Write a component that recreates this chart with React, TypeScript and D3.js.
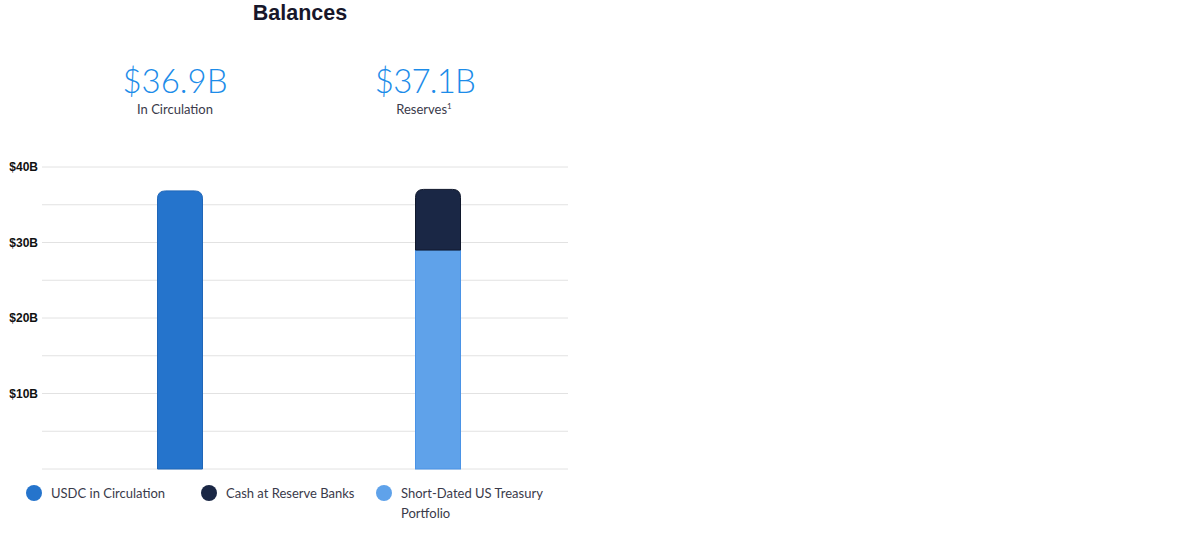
import React from "react";
import * as d3 from "d3";

const categories = ["In Circulation", "Reserves"];
const circulationValues = [36.9, 0];
const treasuryValues = [0, 29.0];
const cashValues = [0, 8.1];
const yTicks = [10, 20, 30, 40];
const gridTicks = [0, 5, 10, 15, 20, 25, 30, 35, 40];
const headlineValues = ["$36.9B", "$37.1B"];
const legendLabels = ["USDC in Circulation", "Cash at Reserve Banks", "Short-Dated US Treasury"];

const C_CIRC = "#2574cc";
const C_CASH = "#1a2745";
const C_TREAS = "#5fa2ea";

function topRoundedPath(x: number, y: number, w: number, h: number, r: number) {
  const rr = Math.min(r, h, w / 2);
  return `M${x},${y + h}V${y + rr}Q${x},${y} ${x + rr},${y}H${x + w - rr}Q${x + w},${y} ${x + w},${y + rr}V${y + h}Z`;
}

export default function App() {
  const width = 1200;
  const height = 541;
  const y = d3.scaleLinear().domain([0, 40]).range([469, 167]);
  const x = d3.scalePoint<string>().domain(categories).range([51, 567]).padding(0.5);
  const bw = 46;
  const font = "Arial, 'Liberation Sans', sans-serif";

  const stacks = categories.map((c, i) => {
    const cx = x(c)!;
    const segs: { y0: number; y1: number; color: string; stroke: string }[] = [];
    let base = 0;
    if (circulationValues[i] > 0) {
      segs.push({ y0: base, y1: base + circulationValues[i], color: C_CIRC, stroke: "#1f66b8" });
      base += circulationValues[i];
    }
    if (treasuryValues[i] > 0) {
      segs.push({ y0: base, y1: base + treasuryValues[i], color: C_TREAS, stroke: "#4a93e6" });
      base += treasuryValues[i];
    }
    if (cashValues[i] > 0) {
      segs.push({ y0: base, y1: base + cashValues[i], color: C_CASH, stroke: "#10182c" });
      base += cashValues[i];
    }
    return { cx, segs, total: base };
  });

  const legend = [
    { cx: 34, tx: 51, label: legendLabels[0], color: C_CIRC, extra: "" },
    { cx: 209, tx: 226, label: legendLabels[1], color: C_CASH, extra: "" },
    { cx: 384, tx: 401, label: legendLabels[2], color: C_TREAS, extra: "Portfolio" },
  ];

  return (
    <svg width={width} height={height} style={{ position: "absolute", left: 0, top: 0, background: "#fff" }}>
      <text x={300} y={20} textAnchor="middle" fontFamily="'Liberation Sans', Arial, sans-serif" fontWeight={700} fontSize={21.5} fill="#17172b">
        Balances
      </text>
      {categories.map((c, i) => (
        <g key={c}>
          <text x={i === 0 ? 175 : 425} y={93} textAnchor="middle" fontFamily="Lato, sans-serif" fontWeight={300} fontSize={33} fill="#1c8ce9" letterSpacing={i === 1 ? -0.8 : 0}>
            {headlineValues[i]}
          </text>
          <text x={i === 0 ? 175 : 424} y={114} textAnchor="middle" fontFamily="Lato, 'Open Sans', sans-serif" fontSize={13} fill="#3a3a4a">
            {c}
            {i === 1 ? <tspan dy={-5} fontSize={8}>1</tspan> : null}
          </text>
        </g>
      ))}
      {gridTicks.map((t) => (
        <line key={t} x1={42} x2={568} y1={y(t)} y2={y(t)} stroke="#e2e2e2" strokeWidth={1} />
      ))}
      {yTicks.map((t) => (
        <text key={t} x={38} y={y(t) + 4} textAnchor="end" fontFamily={font} fontWeight={700} fontSize={12} fill="#111">
          ${t}B
        </text>
      ))}
      {stacks.map((s, i) => (
        <g key={i}>
          {s.segs.map((seg, j) => {
            const top = y(seg.y1);
            const bottom = y(seg.y0);
            const isTop = j === s.segs.length - 1;
            const x0 = s.cx - bw / 2;
            return isTop ? (
              <path key={j} d={topRoundedPath(x0 + 0.5, top + 0.5, bw - 1, bottom - top - 0.5, 8)} fill={seg.color} stroke={seg.stroke} strokeWidth={1} />
            ) : (
              <rect key={j} x={x0 + 0.5} y={top} width={bw - 1} height={bottom - top} fill={seg.color} stroke={seg.stroke} strokeWidth={1} />
            );
          })}
        </g>
      ))}
      {legend.map((l) => (
        <g key={l.label}>
          <circle cx={l.cx} cy={493} r={8} fill={l.color} />
          <text x={l.tx} y={498} fontFamily="Lato, 'Open Sans', sans-serif" fontSize={13} fill="#3a3a4a">
            {l.label}
          </text>
          {l.extra ? (
            <text x={l.tx} y={518} fontFamily="Lato, 'Open Sans', sans-serif" fontSize={13} fill="#3a3a4a">
              {l.extra}
            </text>
          ) : null}
        </g>
      ))}
    </svg>
  );
}
